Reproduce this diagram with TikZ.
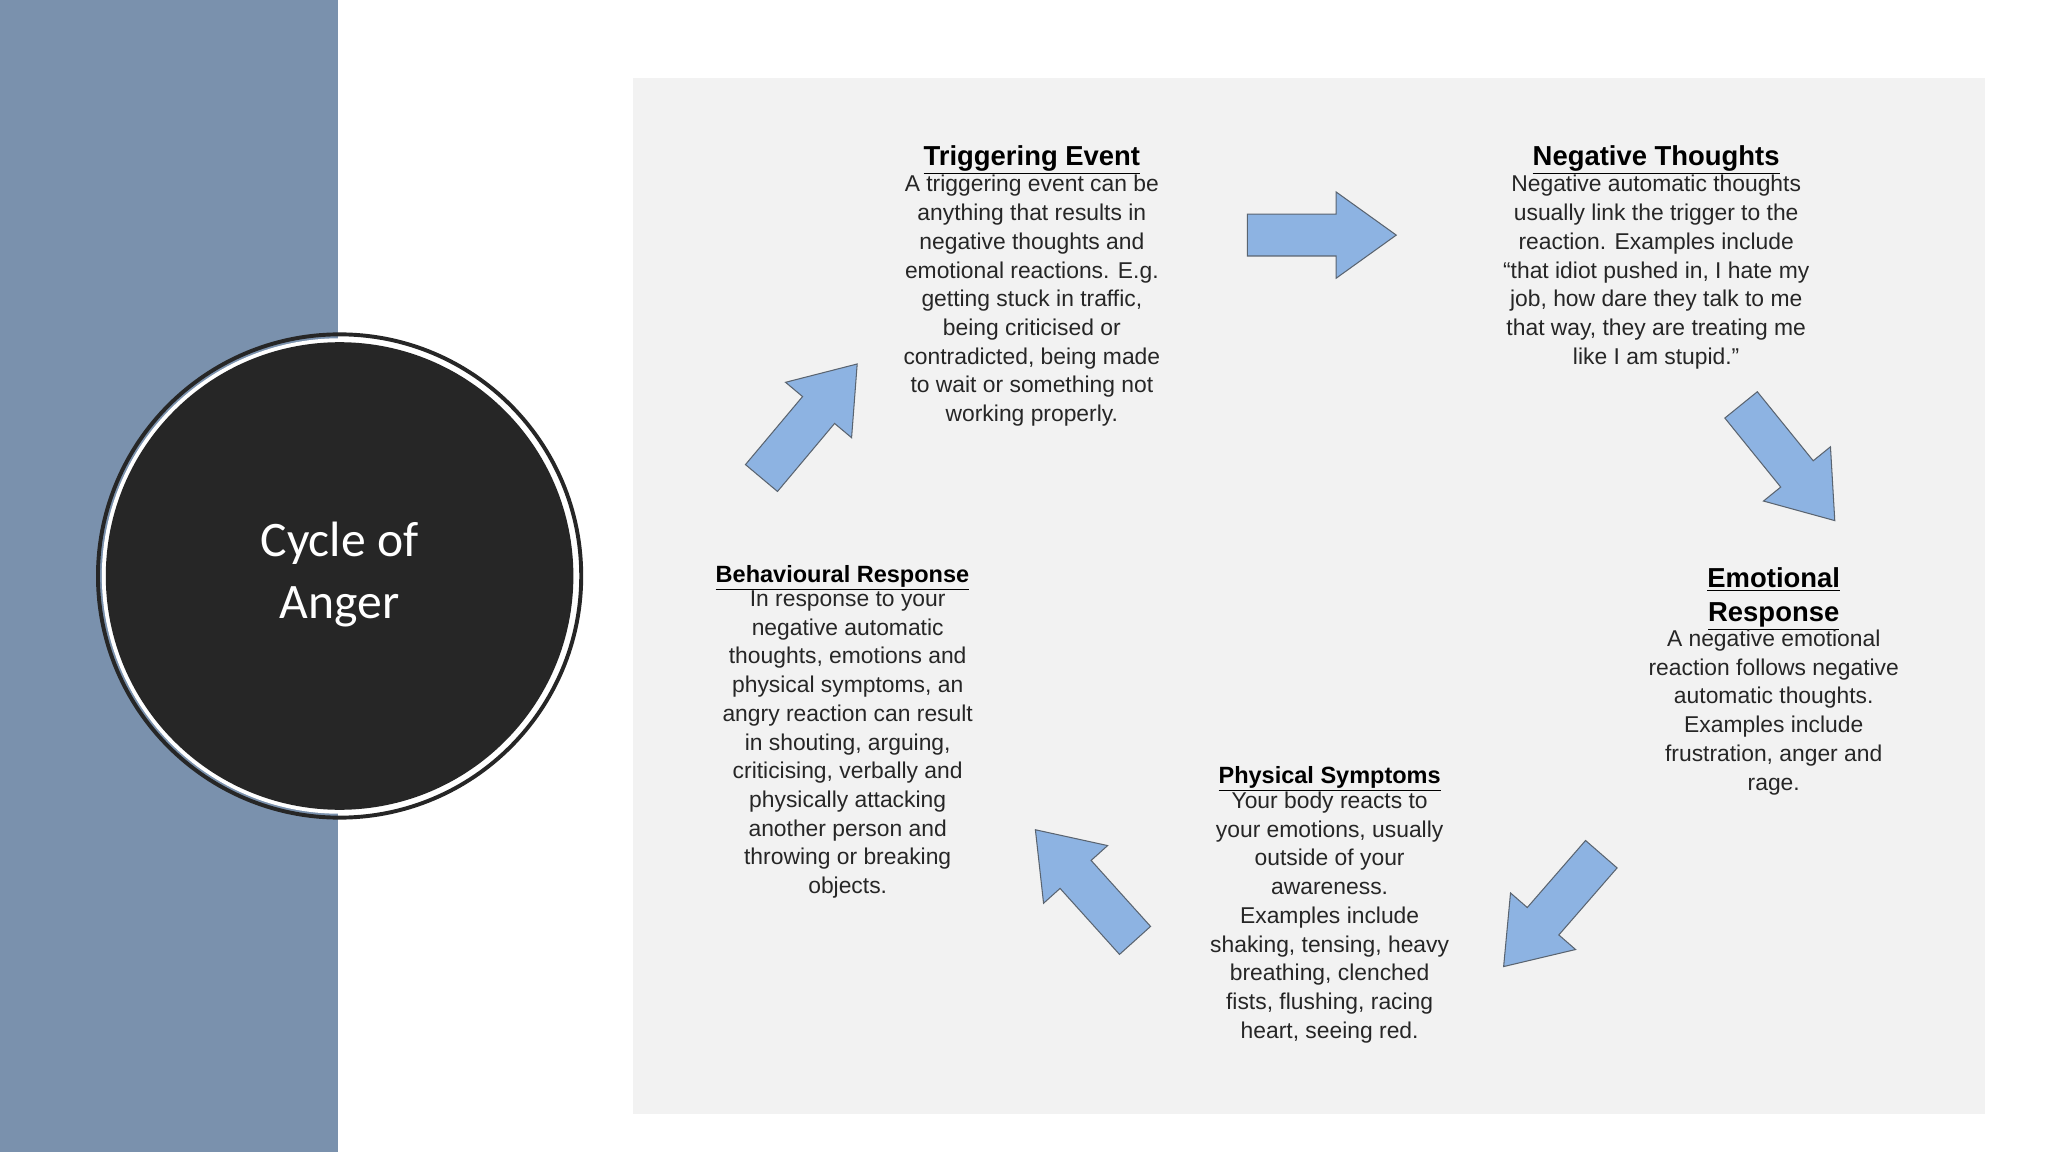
\documentclass[tikz,border=0pt]{standalone}
\usepackage{fontspec}
\setmainfont{Liberation Sans}
\newfontfamily\calib{Carlito}
\usetikzlibrary{calc}
\definecolor{band}{HTML}{7A91AD}
\definecolor{panel}{HTML}{F2F2F2}
\definecolor{dark}{HTML}{262626}
\definecolor{arrowfill}{HTML}{8DB3E2}
\definecolor{arrowline}{HTML}{5A6470}
\tikzset{
 x=1pt,y=1pt,
 body/.style={align=center,font=\fontsize{17.5}{22}\selectfont,text=black!85,inner sep=0pt,anchor=north},
 ttl/.style={font=\fontsize{21}{26}\selectfont\bfseries,inner sep=0pt,anchor=base},
 ttls/.style={font=\fontsize{18}{26}\selectfont\bfseries,inner sep=0pt,anchor=base},
 barrow/.pic={\draw[fill=arrowfill,draw=arrowline,line width=0.8pt,line join=miter]
   (0,-16) -- (68,-16) -- (68,-33) -- (114,0) -- (68,33) -- (68,16) -- (0,16) -- cycle;}
}
\newcommand{\ul}[1]{\underline{#1}}
\begin{document}
\begin{tikzpicture}
\useasboundingbox (0,0) rectangle (1568,-882);
\fill[white] (0,0) rectangle (1568,-882);
\fill[band] (0,0) rectangle (259,-882);
\fill[panel] (485,-60) rectangle (1520,-853);
% circle
\draw[dark,line width=3pt] (260,-441) circle (185);
\fill[white] (260,-441) circle (182);
\node[circle,fill=dark,minimum size=358pt,inner sep=0pt] (circ) at (260,-441) {};
\node[align=center,text=white,font=\calib\fontsize{38}{47}\selectfont] (ctext) at (260,-440) {Cycle of\\Anger};
% titles
\node[ttl] (t1) at (790,-127) {\ul{Triggering Event}};
\node[body] (b1) at (790,-134) {A triggering event can be\\anything that results in\\negative thoughts and\\emotional reactions. E.g.\\getting stuck in traffic,\\being criticised or\\contradicted, being made\\to wait or something not\\working properly.};
\node[ttl] (t2) at (1268,-127) {\ul{Negative Thoughts}};
\node[body] (b2) at (1268,-134) {Negative automatic thoughts\\usually link the trigger to the\\reaction. Examples include\\“that idiot pushed in, I hate my\\job, how dare they talk to me\\that way, they are treating me\\like I am stupid.”};
\node[ttl] (t3a) at (1358,-450) {\ul{Emotional}};
\node[ttl] (t3b) at (1358,-476) {\ul{Response}};
\node[body] (b3) at (1358,-482) {A negative emotional\\reaction follows negative\\automatic thoughts.\\Examples include\\frustration, anger and\\rage.};
\node[ttls] (t4) at (1018,-600) {\ul{Physical Symptoms}};
\node[body] (b4) at (1018,-606) {Your body reacts to\\your emotions, usually\\outside of your\\awareness.\\Examples include\\shaking, tensing, heavy\\breathing, clenched\\fists, flushing, racing\\heart, seeing red.};
\node[ttls] (t5) at (645,-446) {\ul{Behavioural Response}};
\node[body] (b5) at (649,-452) {In response to your\\negative automatic\\thoughts, emotions and\\physical symptoms, an\\angry reaction can result\\in shouting, arguing,\\criticising, verbally and\\physically attacking\\another person and\\throwing or breaking\\objects.};
% arrows
\pic[rotate=0] at (955,-180) {barrow};
\pic[rotate=-51] at (1333,-310) {barrow};
\pic[rotate=-131] at (1226,-654) {barrow};
\pic[rotate=132] at (869,-720) {barrow};
\pic[rotate=50] at (583,-366) {barrow};
\end{tikzpicture}
\end{document}
